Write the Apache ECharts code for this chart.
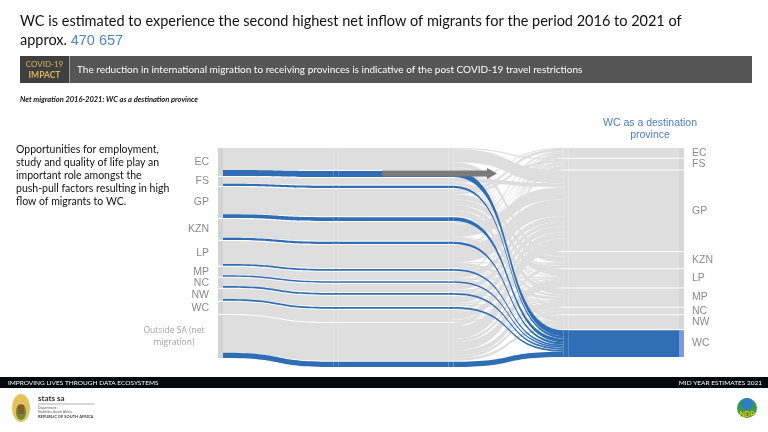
<!DOCTYPE html>
<html><head><meta charset="utf-8">
<script src="https://cdn.jsdelivr.net/npm/echarts@6/dist/echarts.min.js"></script>
<style>html,body{margin:0;padding:0;background:#fff}#c{width:768px;height:432px}</style>
</head><body><div id="c"></div>
<script>
// Destination provinces (right column, in order)
const provinces = ['EC','FS','GP','KZN','LP','MP','NC','NW','WC'];
// Origins (left column, in order)
const origins = ['EC','FS','GP','KZN','LP','MP','NC','NW','WC','Outside SA'];
const originLabels = ['EC','FS','GP','KZN','LP','MP','NC','NW','WC','Outside SA (net\nmigration)'];
const focusProvince = 'WC';

// Estimated migration streams 2016-2021 (people), columns follow `provinces`
const fromEC  = [0, 24000, 240000, 90000, 12000, 16000, 8000, 18000, 112000];
const fromFS  = [12000, 0, 72000, 8000, 6000, 8000, 8000, 12000, 42000];
const fromGP  = [52000, 48000, 0, 92000, 108000, 92000, 14000, 100000, 70000];
const fromKZN = [36000, 12000, 230000, 0, 10000, 44000, 4000, 12000, 42000];
const fromLP  = [6000, 8000, 310000, 10000, 0, 60000, 4000, 30000, 36000];
const fromMP  = [6000, 6000, 104000, 12000, 22000, 0, 2000, 6000, 28000];
const fromNC  = [8000, 18000, 84000, 6000, 4000, 4000, 0, 26000, 36000];
const fromNW  = [8000, 20000, 112000, 6000, 16000, 10000, 16000, 0, 36000];
const fromWC  = [40000, 10000, 116000, 18000, 8000, 8000, 16000, 8000, 0];
const fromOutside = [12000, 54000, 232000, 58000, 154000, 98000, 48000, 48000, 98000];

const headline1 = 'WC is estimated to experience the second highest net inflow of migrants for the period 2016 to 2021 of';
const headlineValue = '470 657';
const covidText = 'The reduction in international migration to receiving provinces is indicative of the post COVID-19 travel restrictions';
const subtitle = 'Net migration 2016-2021: WC as a destination province';
const noteLines = ['Opportunities for employment,','study and quality of life play an','important role amongst the','push-pull factors resulting in high','flow of migrants to WC.'];

const flowsByOrigin = [fromEC, fromFS, fromGP, fromKZN, fromLP, fromMP, fromNC, fromNW, fromWC, fromOutside];

const GREY = '#dedede', BLUE = '#2f6db5', LABEL = '#8a8a8a';
const focusIdx = provinces.indexOf(focusProvince);

const nodes = [], greyLinks = [], blueLinks = [];
const hidden = (name, color) => ({name, itemStyle: {color, borderWidth: 0}, label: {show: false}});
const link = (s, t, v, blue) => (blue ? blueLinks : greyLinks).push({source: s, target: t, value: v, lineStyle: {color: blue ? BLUE : GREY}});

// column 0: origins
origins.forEach((o, i) => {
  const isOut = i === origins.length - 1;
  nodes.push({
    name: 'src_' + o,
    itemStyle: {color: '#d3d3d3', borderWidth: 0},
    label: isOut
      ? {show: true, position: 'left', distance: 44, formatter: originLabels[i], align: 'center', fontSize: 8.5, lineHeight: 12, color: '#a3a3a3', fontFamily: 'Open Sans'}
      : {show: true, position: 'left', distance: 9, formatter: originLabels[i], fontSize: 10.5, color: LABEL, fontFamily: 'Liberation Sans'}
  });
});
// columns 1 and 2: per-origin split (other provinces / focus province)
['a', 'b'].forEach((stage) => {
  origins.forEach((o, i) => {
    nodes.push(hidden(stage + '_' + o + '_o', GREY));
    if (flowsByOrigin[i][focusIdx] > 0) nodes.push(hidden(stage + '_' + o + '_w', BLUE));
  });
});
// column 3: destination feeders
provinces.forEach((d) => nodes.push(hidden('p_' + d, d === focusProvince ? BLUE : GREY)));
// column 4: destinations
provinces.forEach((d) => {
  nodes.push({
    name: 'dst_' + d,
    itemStyle: {color: d === focusProvince ? '#7b9cd8' : '#d6d6d6', borderWidth: 0},
    label: {show: true, position: 'right', distance: 8, formatter: d, fontSize: 10.5, color: LABEL, fontFamily: 'Liberation Sans'}
  });
});

origins.forEach((o, i) => {
  const row = flowsByOrigin[i];
  const other = row.reduce((s, v, j) => j === focusIdx ? s : s + v, 0);
  const toFocus = row[focusIdx];
  link('src_' + o, 'a_' + o + '_o', other, false);
  link('a_' + o + '_o', 'b_' + o + '_o', other, false);
  if (toFocus > 0) {
    link('src_' + o, 'a_' + o + '_w', toFocus, true);
    link('a_' + o + '_w', 'b_' + o + '_w', toFocus, true);
  }
  row.forEach((v, j) => {
    if (v <= 0) return;
    if (j === focusIdx) link('b_' + o + '_w', 'p_' + provinces[j], v, true);
    else link('b_' + o + '_o', 'p_' + provinces[j], v, false);
  });
});
provinces.forEach((d, j) => {
  const total = flowsByOrigin.reduce((s, r) => s + r[j], 0);
  link('p_' + d, 'dst_' + d, total, d === focusProvince);
});

const chart = echarts.init(document.getElementById('c'), null, {renderer: 'canvas'});
const g = [];
// headline
g.push({type: 'text', left: 20, top: 14, style: {text: headline1, font: '14.5px Lato', fill: '#111'}});
g.push({type: 'text', left: 20, top: 33, style: {
  text: 'approx. {v|' + headlineValue + '}', font: '14.5px Lato', fill: '#111',
  rich: {v: {fill: '#4f86c1', font: '14.5px Lato', fontSize: 14.5}}
}});
// covid box
g.push({type: 'rect', shape: {x: 20, y: 56, width: 732, height: 27}, style: {fill: '#565656'}});
g.push({type: 'rect', shape: {x: 20, y: 56, width: 49, height: 27}, style: {fill: '#3f3f3f'}});
g.push({type: 'line', shape: {x1: 69.5, y1: 56, x2: 69.5, y2: 83}, style: {stroke: '#9c9c9c', lineWidth: 1}});
g.push({type: 'text', x: 44.5, y: 64, style: {text: 'COVID-19', font: '8px Lato', fill: '#d8b45a', align: 'center', verticalAlign: 'middle'}});
g.push({type: 'text', x: 44.5, y: 75, style: {text: 'IMPACT', font: 'bold 8.5px Lato', fill: '#d8b45a', align: 'center', verticalAlign: 'middle'}});
g.push({type: 'text', x: 77, y: 70, style: {text: covidText, font: '10px Lato', fill: '#ffffff', verticalAlign: 'middle'}});
g.push({type: 'text', x: 20, y: 100, style: {text: subtitle, font: 'italic bold 7.5px Lato', fill: '#111', verticalAlign: 'middle'}});
// side note
noteLines.forEach((t, i) => g.push({type: 'text', x: 16, y: 150 + i * 13, style: {text: t, font: '10.5px Lato', fill: '#111', verticalAlign: 'middle'}}));
// right header
g.push({type: 'text', x: 650, y: 123, style: {text: 'WC as a destination', font: '10.5px "Liberation Sans"', fill: '#4a7ebf', align: 'center', verticalAlign: 'middle'}});
g.push({type: 'text', x: 650, y: 135, style: {text: 'province', font: '10.5px "Liberation Sans"', fill: '#4a7ebf', align: 'center', verticalAlign: 'middle'}});
// arrow
g.push({type: 'rect', shape: {x: 382, y: 170.5, width: 106, height: 6}, style: {fill: '#7a7a7a'}, z: 10});
g.push({type: 'polygon', shape: {points: [[487, 168], [497, 173.5], [487, 179]]}, style: {fill: '#7a7a7a'}, z: 10});
// footer
g.push({type: 'rect', shape: {x: 0, y: 377, width: 768, height: 11}, style: {fill: '#07070f'}, z: 10});
g.push({type: 'text', x: 8, y: 382.5, style: {text: 'IMPROVING LIVES THROUGH DATA ECOSYSTEMS', font: '6.5px Lato', fill: '#ffffff', verticalAlign: 'middle'}, z: 11});
g.push({type: 'text', x: 762, y: 382.5, style: {text: 'MID YEAR ESTIMATES 2021', font: '6.5px Lato', fill: '#ffffff', align: 'right', verticalAlign: 'middle'}, z: 11});
// stats sa logo (approximation)
g.push({type: 'ellipse', shape: {cx: 21, cy: 408, rx: 9, ry: 14}, style: {fill: '#e3c25a'}});
g.push({type: 'ellipse', shape: {cx: 21, cy: 412, rx: 5, ry: 8}, style: {fill: '#6b8e3a'}});
g.push({type: 'rect', shape: {x: 18, y: 405, width: 6, height: 9}, style: {fill: '#8a5a2a'}});
g.push({type: 'text', x: 38, y: 398, style: {text: 'stats sa', font: 'bold 8px Lato', fill: '#333', verticalAlign: 'middle'}});
g.push({type: 'line', shape: {x1: 38, y1: 404, x2: 94, y2: 404}, style: {stroke: '#777', lineWidth: 0.6}});
g.push({type: 'text', x: 38, y: 408, style: {text: 'Department:', font: '3.5px Lato', fill: '#555', verticalAlign: 'middle'}});
g.push({type: 'text', x: 38, y: 412, style: {text: 'Statistics South Africa', font: '3.5px Lato', fill: '#555', verticalAlign: 'middle'}});
g.push({type: 'text', x: 38, y: 416.5, style: {text: 'REPUBLIC OF SOUTH AFRICA', font: 'bold 4px Lato', fill: '#444', verticalAlign: 'middle'}});
// NDP logo (approximation)
g.push({type: 'circle', shape: {cx: 747, cy: 408, r: 10}, style: {fill: '#3a9a4a'}});
g.push({type: 'circle', shape: {cx: 747, cy: 404, r: 6}, style: {fill: '#2f7fc0'}});
g.push({type: 'text', x: 747, y: 415, style: {text: 'NDP', font: 'bold 7px Lato', fill: '#f2c200', align: 'center', verticalAlign: 'middle'}});

chart.setOption({
  animation: false,
  graphic: g,
  series: [{
    type: 'sankey',
    left: 218, top: 148, width: 466, height: 219,
    nodeWidth: 5, nodeGap: 1,
    layoutIterations: 0,
    draggable: false,
    emphasis: {disabled: true},
    data: nodes,
    links: greyLinks.concat(blueLinks),
    lineStyle: {curveness: 0.6, opacity: 1},
    label: {fontFamily: 'Liberation Sans'}
  }]
});
</script></body></html>
